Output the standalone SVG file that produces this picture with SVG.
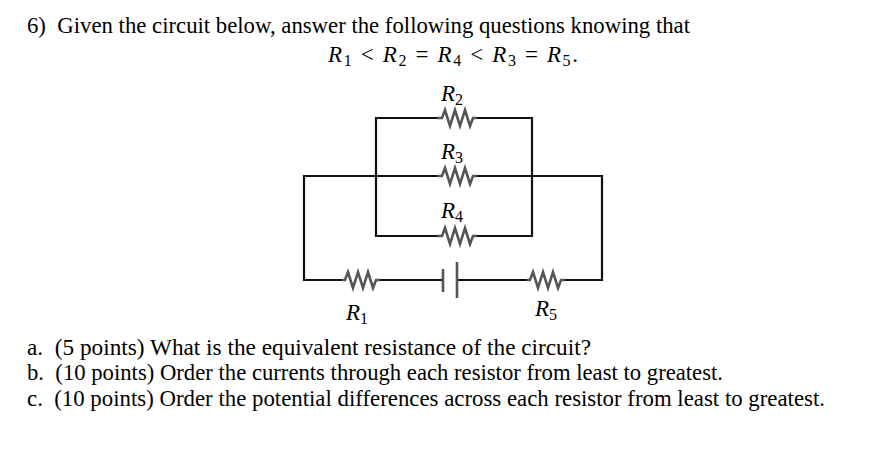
<svg xmlns="http://www.w3.org/2000/svg" width="872" height="460" viewBox="0 0 872 460">
<style>
text{font-family:"Liberation Serif","Times New Roman",serif;font-size:23.5px;fill:#000}
.m{font-style:italic}
.s{font-size:16px;font-style:normal}
.w{fill:none;stroke:#111;stroke-width:2.2}
.r{fill:none;stroke:#555;stroke-width:2.6;stroke-linejoin:miter}
</style>
<rect width="872" height="460" fill="#fff"/>
<text x="27" y="33" xml:space="preserve" textLength="663" lengthAdjust="spacingAndGlyphs">6)  Given the circuit below, answer the following questions knowing that</text>
<text x="328" y="62" xml:space="preserve" style="font-size:23px" textLength="250" lengthAdjust="spacing"><tspan class="m">R</tspan><tspan class="s" dy="4">1</tspan><tspan dy="-4"> &lt; </tspan><tspan class="m">R</tspan><tspan class="s" dy="4">2</tspan><tspan dy="-4"> = </tspan><tspan class="m">R</tspan><tspan class="s" dy="4">4</tspan><tspan dy="-4"> &lt; </tspan><tspan class="m">R</tspan><tspan class="s" dy="4">3</tspan><tspan dy="-4"> = </tspan><tspan class="m">R</tspan><tspan class="s" dy="4">5</tspan><tspan dy="-4">.</tspan></text>
<g id="connectors">
<path class="w" d="M437 118H376V236H437M477 118H532V236H477"/>
<path class="w" d="M437 176H304V280H342M477 176H602V280H565"/>
<path class="w" d="M380 280H443M457 280H527"/>
</g>
<g id="R2"><path class="r" d="M437 118l5 0 3-8 5 16 5-16 5 16 5-16 5 16 3-8h4"/><text x="441" y="101" style="font-size:23px"><tspan class="m">R</tspan><tspan class="s" dy="4">2</tspan></text></g>
<g id="R3"><path class="r" d="M437 176l5 0 3-8 5 16 5-16 5 16 5-16 5 16 3-8h4"/><text x="441" y="159" style="font-size:23px"><tspan class="m">R</tspan><tspan class="s" dy="4">3</tspan></text></g>
<g id="R4"><path class="r" d="M437 236l5 0 3-8 5 16 5-16 5 16 5-16 5 16 3-8h4"/><text x="441" y="218" style="font-size:23px"><tspan class="m">R</tspan><tspan class="s" dy="4">4</tspan></text></g>
<g id="R1"><path class="r" d="M342 280l3 0 3-8 5 16 5-16 5 16 5-16 5 16 3-8h4"/><text x="346" y="320" style="font-size:23px"><tspan class="m">R</tspan><tspan class="s" dy="4">1</tspan></text></g>
<g id="R5"><path class="r" d="M527 280l3 0 3-8 5 16 5-16 5 16 5-16 5 16 3-8h4"/><text x="535" y="316" style="font-size:23px"><tspan class="m">R</tspan><tspan class="s" dy="4">5</tspan></text></g>
<g id="battery"><path class="r" d="M443 269V292M457 262V298"/></g>
<text x="27" y="355" xml:space="preserve" textLength="564" lengthAdjust="spacingAndGlyphs">a.  (5 points) What is the equivalent resistance of the circuit?</text>
<text x="27" y="380" xml:space="preserve" textLength="696" lengthAdjust="spacingAndGlyphs">b.  (10 points) Order the currents through each resistor from least to greatest.</text>
<text x="27" y="406" xml:space="preserve" textLength="798" lengthAdjust="spacingAndGlyphs">c.  (10 points) Order the potential differences across each resistor from least to greatest.</text>
</svg>
